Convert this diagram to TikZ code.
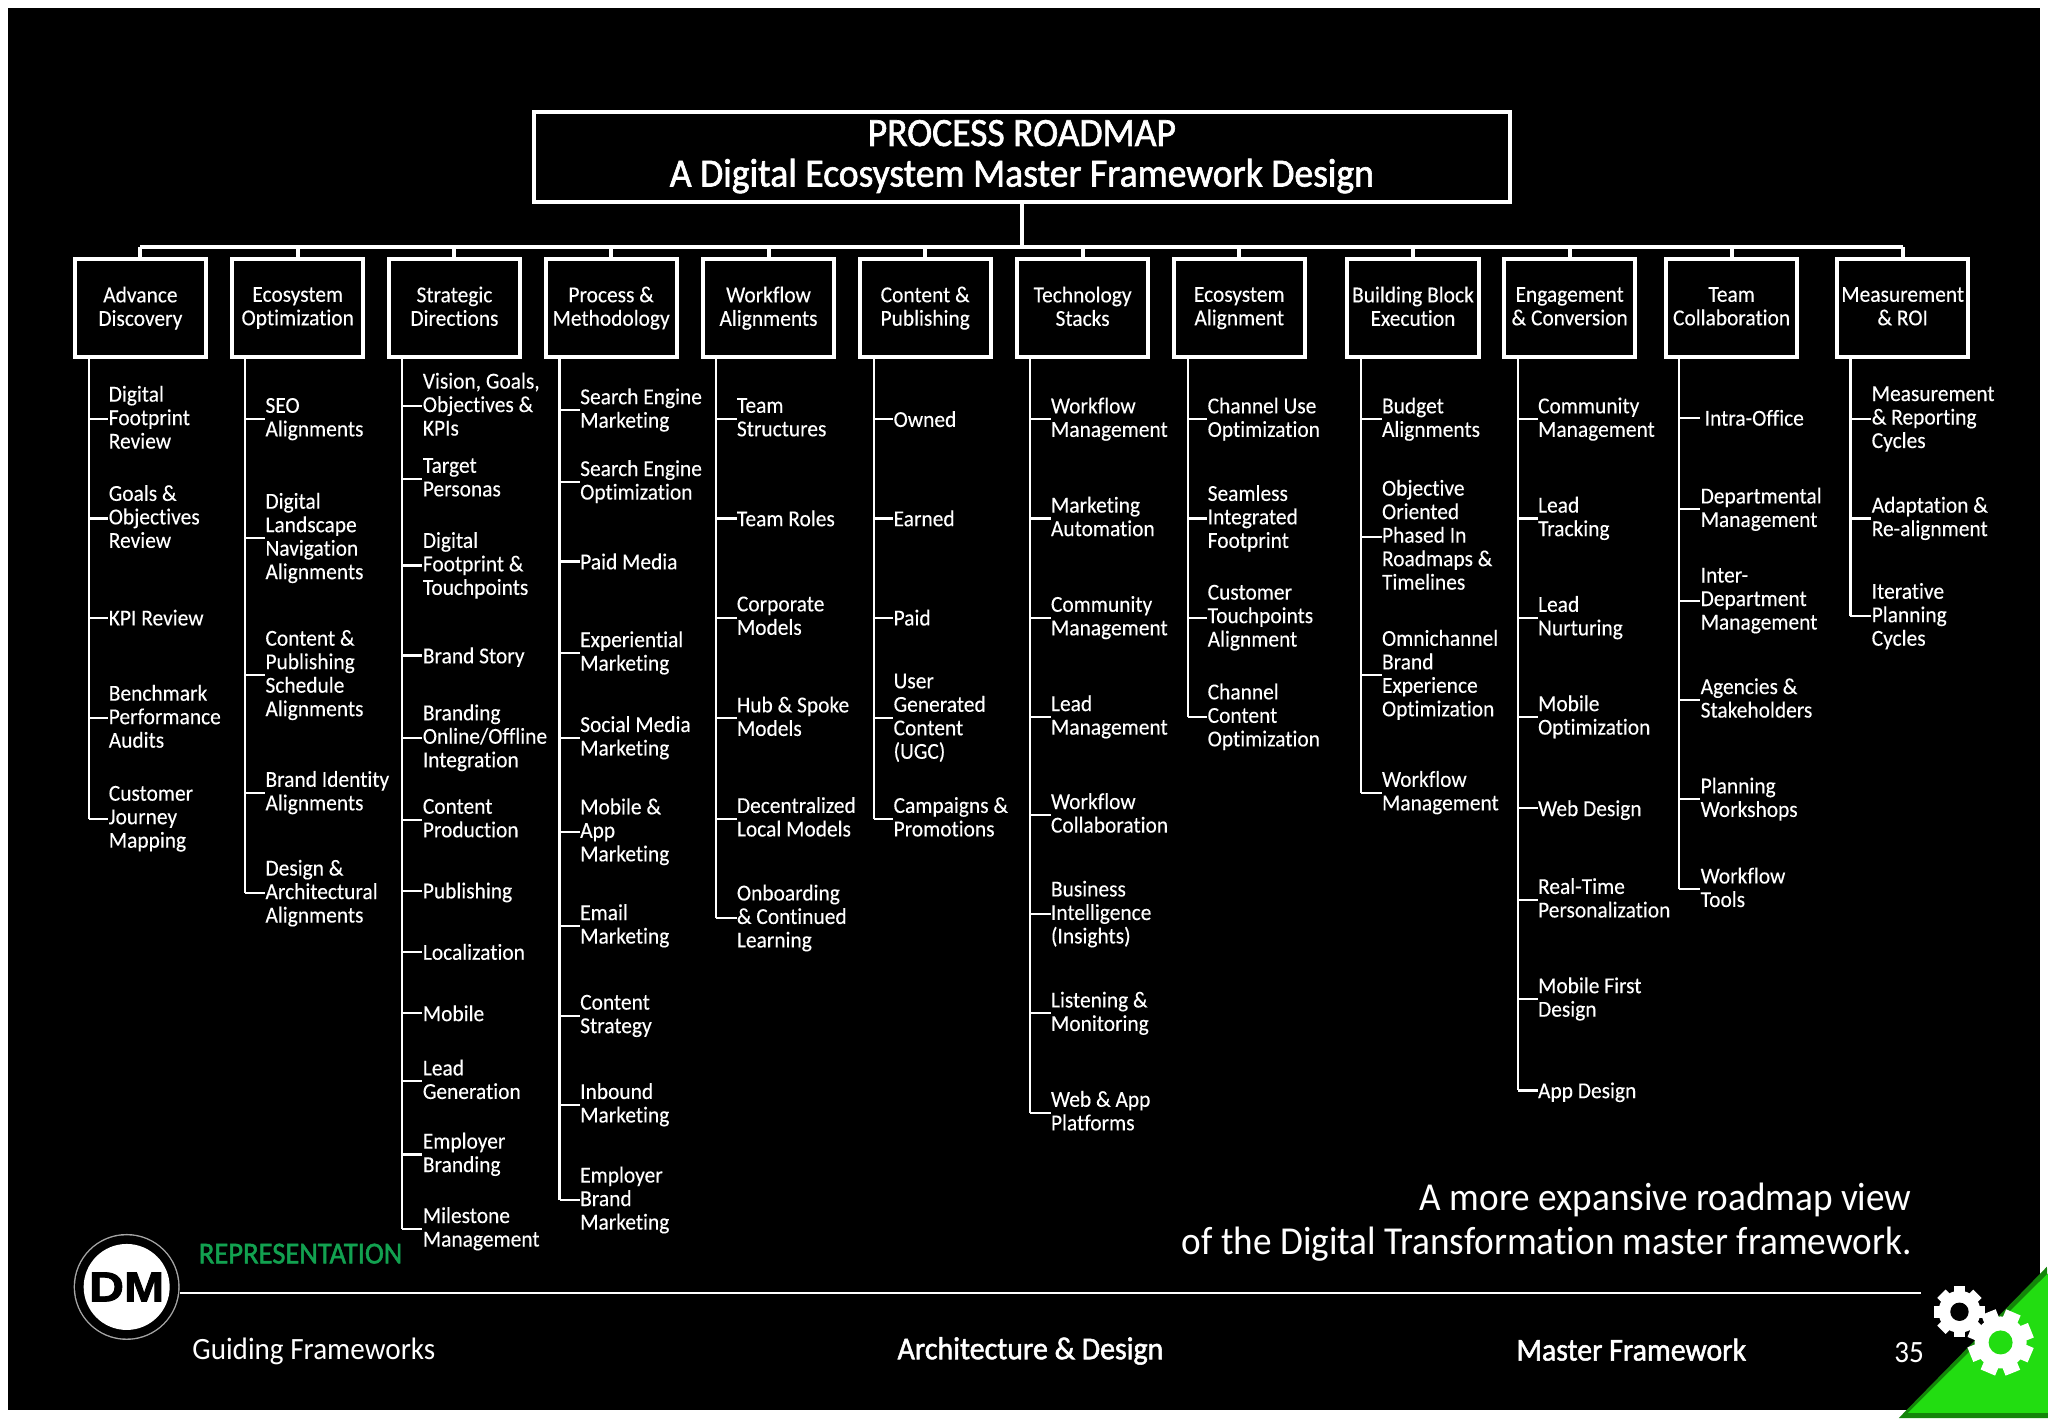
\documentclass[tikz,border=0pt]{standalone}
\usepackage{fontspec}
\setmainfont[FakeStretch=0.94,FakeBold=0.2,Ligatures=NoCommon]{Carlito}
\newfontfamily\heavyfont[FakeStretch=0.94,FakeBold=1.6,Ligatures=NoCommon]{Carlito}
\newfontfamily\lightfont[FakeStretch=0.94,Ligatures=NoCommon]{Carlito}
\newfontfamily\logofont[FakeStretch=1.15,FakeBold=2]{Liberation Sans Bold}
\usetikzlibrary{positioning}
\definecolor{repgreen}{HTML}{12A150}
\definecolor{cornergreen}{HTML}{22DD11}
\newcommand\itemstrut{\rule[-2pt]{0pt}{11.75pt}}

\begin{document}
\begin{tikzpicture}[
    x=0.653pt, y=-0.653pt,
    titlebox/.style={rectangle, draw=white, line width=2pt, text=white, minimum width=488pt, minimum height=45.2pt, align=center, font=\fontsize{20}{20.3}\selectfont\heavyfont, execute at begin node=\rule{0pt}{17pt}},
    catbox/.style={rectangle, draw=white, line width=2pt, text=white, minimum width=65.6pt, minimum height=49pt, inner sep=0pt, align=center, font=\fontsize{11.4}{11.75}\selectfont, execute at begin node=\itemstrut, execute at end node=\itemstrut},
    item/.style={anchor=west, inner sep=0pt, text=white, align=left, font=\fontsize{11.4}{11.75}\selectfont, execute at begin node=\itemstrut, execute at end node=\itemstrut},
    footer/.style={inner sep=0pt, text=white, font=\fontsize{15.5}{18}\selectfont\lightfont},
    busline/.style={draw=white, line width=2pt},
    tick/.style={draw=white, line width=1.1pt}
]
\useasboundingbox (0,0) rectangle (1568.3,1085.9);

% Slide background
\fill[white] (0,0) rectangle (1568.3,1085.9);
\fill[black] (6,6.5) rectangle (1562,1080);

% Title
\node[titlebox] (title) at (782.5,120) {PROCESS ROADMAP\\A Digital Ecosystem Master Framework Design};

% Categories
\coordinate (busleft) at (107.5,189);
\coordinate (busright) at (1457.5,189);
\draw[busline] (busleft) -- (busright);
\draw[busline] (title.south) -- (title.south |- busleft);
\foreach \n/\x/\t in {a/107.5/{Advance\\Discovery},b/228/{Ecosystem\\Optimization},c/348/{Strategic\\Directions},d/468/{Process \&\\Methodology},e/588.5/{Workflow\\Alignments},f/708.5/{Content \&\\Publishing},g/829/{Technology\\Stacks},h/949/{Ecosystem\\Alignment},i/1082/{Building Block\\Execution},j/1202/{Engagement\\\& Conversion},k/1326/{Team\\Collaboration},l/1457/{Measurement\\\& ROI}} {
    \node[catbox] (\n) at (\x,236) {\t};
    \draw[busline] (\n.north) -- (\n.north |- busleft);
}

% Advance Discovery
\coordinate (a0) at (68,274);
\foreach \y/\t [count=\i] in {321/{Digital\\Footprint\\Review},397/{Goals \&\\Objectives\\Review},473/{KPI Review},550/{Benchmark\\Performance\\Audits},627/{Customer\\Journey\\Mapping}} {
    \node[item] (a\i) at (83,\y) {\t};
    \draw[tick] (a\i.west -| a0) -- (a\i.west);
}
\draw[tick] (a0) -- (a5.west -| a0);

% Ecosystem Optimization
\coordinate (b0) at (187.5,274);
\foreach \y/\t [count=\i] in {321/{SEO\\Alignments},412/{Digital\\Landscape\\Navigation\\Alignments},517/{Content \&\\Publishing\\Schedule\\Alignments},607/{Brand Identity\\Alignments},684/{Design \&\\Architectural\\Alignments}} {
    \node[item] (b\i) at (203,\y) {\t};
    \draw[tick] (b\i.west -| b0) -- (b\i.west);
}
\draw[tick] (b0) -- (b5.west -| b0);

% Strategic Directions
\coordinate (c0) at (308,274);
\foreach \y/\t [count=\i] in {311/{Vision, Goals,\\Objectives \&\\KPIs},367/{Target\\Personas},433/{Digital\\Footprint \&\\Touchpoints},502/{Brand Story},565/{Branding\\Online/Offline\\Integration},628/{Content\\Production},682/{Publishing},729/{Localization},776/{Mobile},828/{Lead\\Generation},884/{Employer\\Branding},941/{Milestone\\Management}} {
    \node[item] (c\i) at (323.5,\y) {\t};
    \draw[tick] (c\i.west -| c0) -- (c\i.west);
}
\draw[tick] (c0) -- (c12.west -| c0);

% Process & Methodology
\coordinate (d0) at (428.5,274);
\foreach \y/\t [count=\i] in {314/{Search Engine\\Marketing},369/{Search Engine\\Optimization},430/{Paid Media},500/{Experiential\\Marketing},565/{Social Media\\Marketing},637/{Mobile \&\\App\\Marketing},709/{Email\\Marketing},778/{Content\\Strategy},846/{Inbound\\Marketing},919/{Employer\\Brand\\Marketing}} {
    \node[item] (d\i) at (444,\y) {\t};
    \draw[tick] (d\i.west -| d0) -- (d\i.west);
}
\draw[tick] (d0) -- (d10.west -| d0);

% Workflow Alignments
\coordinate (e0) at (548.5,274);
\foreach \y/\t [count=\i] in {321/{Team\\Structures},397/{Team Roles},473/{Corporate\\Models},550/{Hub \& Spoke\\Models},627/{Decentralized\\Local Models},703/{Onboarding\\\& Continued\\Learning}} {
    \node[item] (e\i) at (564,\y) {\t};
    \draw[tick] (e\i.west -| e0) -- (e\i.west);
}
\draw[tick] (e0) -- (e6.west -| e0);

% Content & Publishing
\coordinate (f0) at (669,274);
\foreach \y/\t [count=\i] in {321/{Owned},397/{Earned},473/{Paid},550/{User\\Generated\\Content\\(UGC)},627/{Campaigns \&\\Promotions}} {
    \node[item] (f\i) at (684,\y) {\t};
    \draw[tick] (f\i.west -| f0) -- (f\i.west);
}
\draw[tick] (f0) -- (f5.west -| f0);

% Technology Stacks
\coordinate (g0) at (789,274);
\foreach \y/\t [count=\i] in {321/{Workflow\\Management},397/{Marketing\\Automation},473/{Community\\Management},549/{Lead\\Management},624/{Workflow\\Collaboration},700/{Business\\Intelligence\\(Insights)},776/{Listening \&\\Monitoring},852/{Web \& App\\Platforms}} {
    \node[item] (g\i) at (804.5,\y) {\t};
    \draw[tick] (g\i.west -| g0) -- (g\i.west);
}
\draw[tick] (g0) -- (g8.west -| g0);

% Ecosystem Alignment
\coordinate (h0) at (910,274);
\foreach \y/\t [count=\i] in {321/{Channel Use\\Optimization},397/{Seamless\\Integrated\\Footprint},473/{Customer\\Touchpoints\\Alignment},549/{Channel\\Content\\Optimization}} {
    \node[item] (h\i) at (924.5,\y) {\t};
    \draw[tick] (h\i.west -| h0) -- (h\i.west);
}
\draw[tick] (h0) -- (h4.west -| h0);

% Building Block Execution
\coordinate (i0) at (1042,274);
\foreach \y/\t [count=\i] in {321/{Budget\\Alignments},411/{Objective\\Oriented\\Phased In\\Roadmaps \&\\Timelines},517/{Omnichannel\\Brand\\Experience\\Optimization},607/{Workflow\\Management}} {
    \node[item] (i\i) at (1058,\y) {\t};
    \draw[tick] (i\i.west -| i0) -- (i\i.west);
}
\draw[tick] (i0) -- (i4.west -| i0);

% Engagement & Conversion
\coordinate (j0) at (1162.5,274);
\foreach \y/\t [count=\i] in {321/{Community\\Management},397/{Lead\\Tracking},473/{Lead\\Nurturing},549/{Mobile\\Optimization},619/{Web Design},689/{Real-Time\\Personalization},765/{Mobile First\\Design},835/{App Design}} {
    \node[item] (j\i) at (1177.5,\y) {\t};
    \draw[tick] (j\i.west -| j0) -- (j\i.west);
}
\draw[tick] (j0) -- (j8.west -| j0);

% Team Collaboration
\coordinate (k0) at (1286,274);
\foreach \y/\t [count=\i] in {320/{\hspace{2pt}Intra-Office},390/{Departmental\\Management},460/{Inter-\\Department\\Management},536/{Agencies \&\\Stakeholders},612/{Planning\\Workshops},681/{Workflow\\Tools}} {
    \node[item] (k\i) at (1302,\y) {\t};
    \draw[tick] (k\i.west -| k0) -- (k\i.west);
}
\draw[tick] (k0) -- (k6.west -| k0);

% Measurement & ROI
\coordinate (l0) at (1417,274);
\foreach \y/\t [count=\i] in {321/{Measurement\\\& Reporting\\Cycles},397/{Adaptation \&\\Re-alignment},472/{Iterative\\Planning\\Cycles}} {
    \node[item] (l\i) at (1433,\y) {\t};
    \draw[tick] (l\i.west -| l0) -- (l\i.west);
}
\draw[tick] (l0) -- (l3.west -| l0);

% Caption
\node[inner sep=0pt, text=white, anchor=east, align=right, font=\fontsize{19.8}{22.2}\selectfont\lightfont] (caption) at (1464,936) {A more expansive roadmap view\\of the Digital Transformation master framework.};

% Footer
\node[inner sep=0pt, anchor=west, text=repgreen, font=\fontsize{15.2}{16}\selectfont\heavyfont] (rep) at (152,960) {REPRESENTATION};
\coordinate (ruleleft) at (138,990);
\coordinate (ruleright) at (1471,990);
\draw[tick] (ruleleft) -- (ruleright);
\node[footer, anchor=west] (guide) at (147,1034.5) {Guiding Frameworks};
\node[footer, anchor=west, font=\fontsize{15.9}{18}\selectfont\heavyfont] (arch) at (687,1034.5) {Architecture \& Design};
\node[footer, anchor=west, font=\fontsize{15.85}{18}\selectfont\heavyfont] (master) at (1161,1033.5) {Master Framework};
\node[footer, anchor=center] (page) at (1462,1035.5) {35};

% Logo
\fill[white!65!black] (97,985.5) circle (26.5pt);
\fill[black] (97,985.5) circle (25.8pt);
\node[circle, fill=white, minimum size=43pt, inner sep=0pt, text=black, font=\logofont\fontsize{21}{21}\selectfont] (logo) at (97,985.5) {DM};

% Corner
\fill[cornergreen!60!black] (1567.5,970) -- (1454,1085.9) -- (1568.3,1085.9) -- cycle;
\fill[cornergreen] (1568.3,975) -- (1461,1082) -- (1568.3,1082) -- cycle;

% Gears
\fill[white] (1500.5,1004.5) circle (10.5pt);
\foreach \a in {0,45,...,315}
    \fill[white, rotate around={\a:(1500.5,1004.5)}] (1496,985) rectangle (1505,1000);
\fill[black] (1500.5,1004.5) circle (4.6pt);
\fill[white] (1532,1028) circle (13pt);
\foreach \a in {22,67,...,337}
    \fill[white, rotate around={\a:(1532,1028)}] (1526,1003) rectangle (1538,1020);
\fill[cornergreen] (1532,1028) circle (6pt);

\end{tikzpicture}
\end{document}
